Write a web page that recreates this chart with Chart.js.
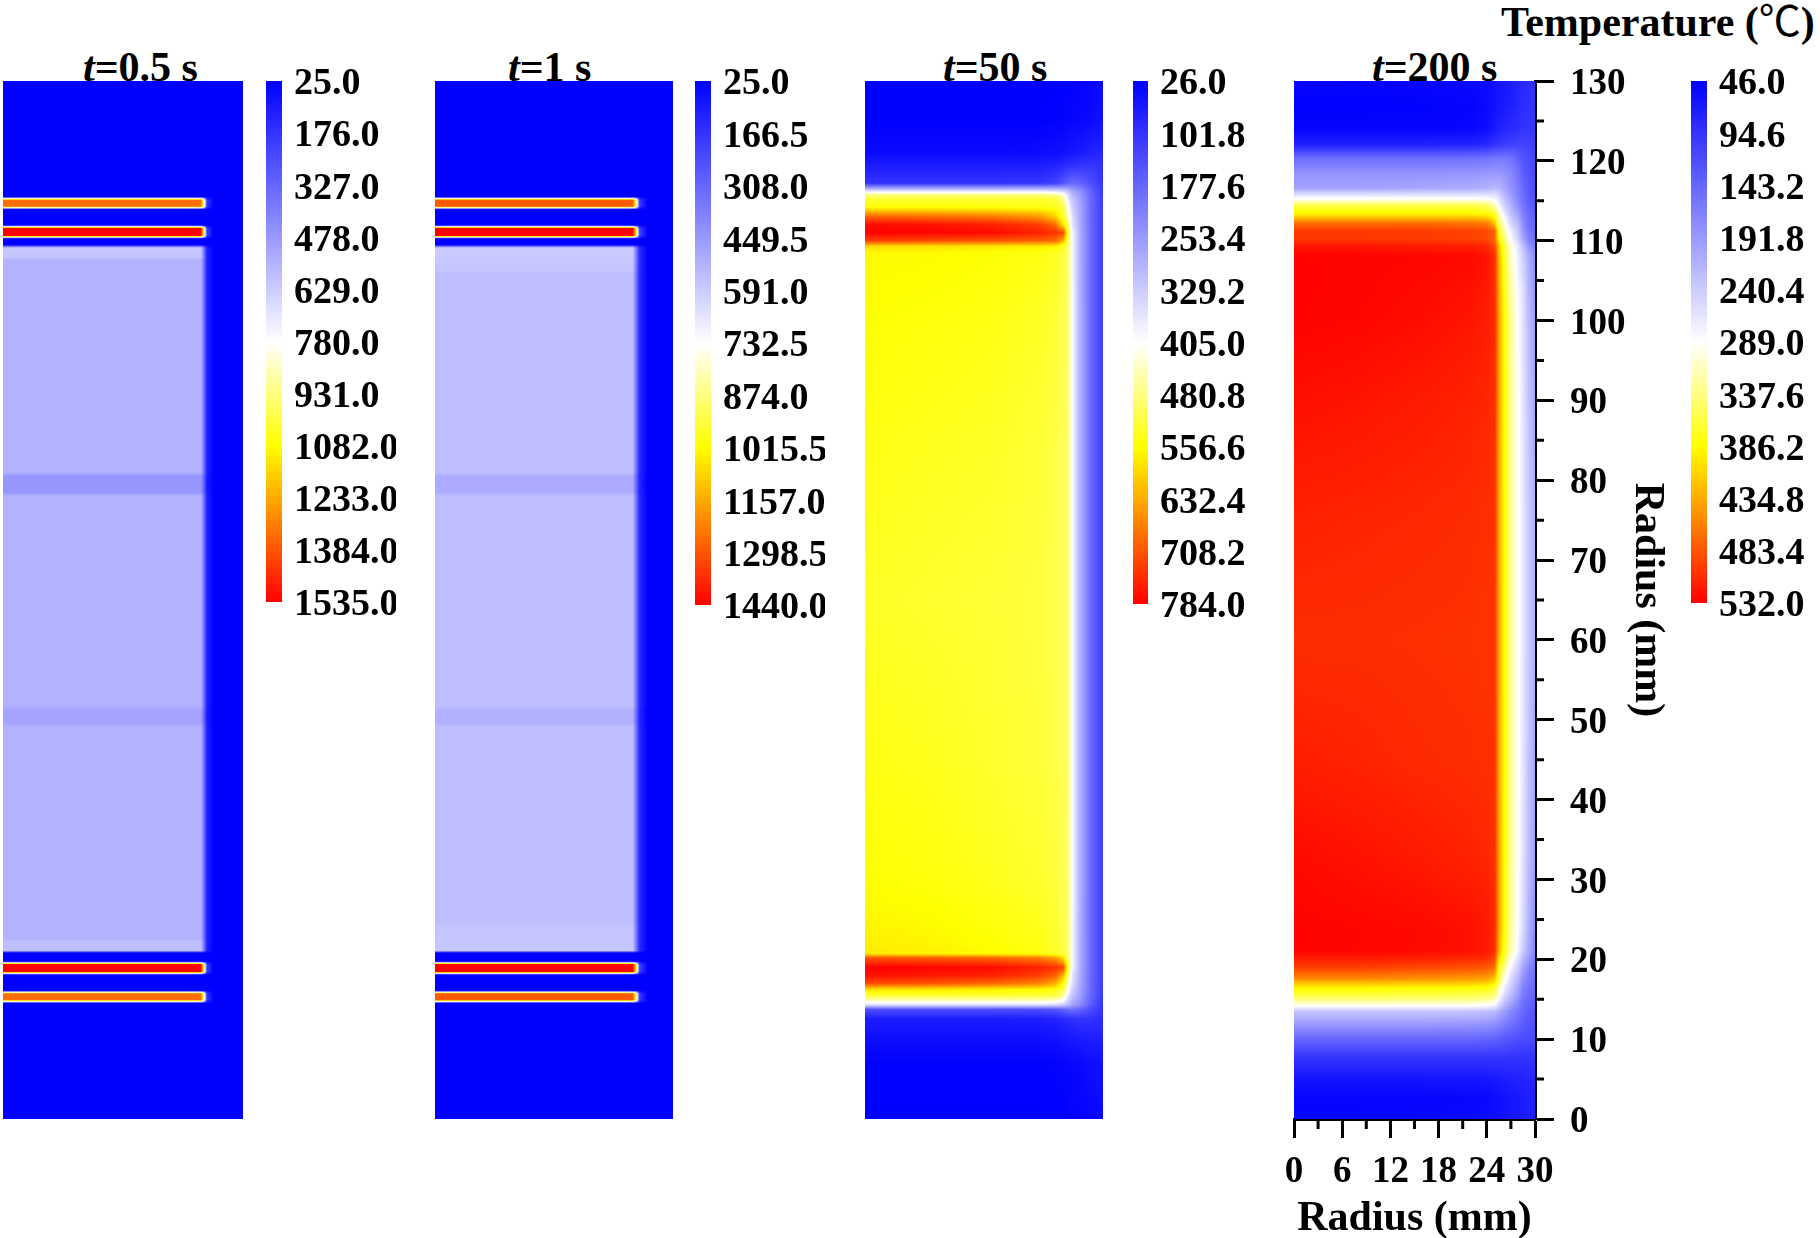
<!DOCTYPE html>
<html><head><meta charset="utf-8">
<style>
html,body{margin:0;padding:0;background:#fff;width:1820px;height:1238px;overflow:hidden}
canvas{position:absolute;display:block}
.t{position:absolute;font:bold 42px/42px "Liberation Serif",serif;color:#000;white-space:pre}
#temp{left:1501px;top:-3px}
#temp span{font-family:"Noto Sans CJK SC";font-weight:400;font-size:42px}
</style>
<script src="https://cdn.jsdelivr.net/npm/chart.js@4"></script>
</head><body>
<div class="t" style="left:83px;top:46px"><i>t</i>=0.5 s</div>
<div class="t" style="left:508px;top:46px"><i>t</i>=1 s</div>
<div class="t" style="left:943px;top:46px"><i>t</i>=50 s</div>
<div class="t" style="left:1372px;top:46px"><i>t</i>=200 s</div>
<div class="t" id="temp">Temperature (<span>℃</span>)</div>
<canvas id="h1"></canvas><canvas id="h2"></canvas><canvas id="h3"></canvas><canvas id="h4"></canvas>
<canvas id="b1"></canvas><canvas id="b2"></canvas><canvas id="b3"></canvas><canvas id="b4"></canvas>
<script>
// colour bar tick labels (°C)
const bar1Ticks=[25.0,176.0,327.0,478.0,629.0,780.0,931.0,1082.0,1233.0,1384.0,1535.0];
const bar2Ticks=[25.0,166.5,308.0,449.5,591.0,732.5,874.0,1015.5,1157.0,1298.5,1440.0];
const bar3Ticks=[26.0,101.8,177.6,253.4,329.2,405.0,480.8,556.6,632.4,708.2,784.0];
const bar4Ticks=[46.0,94.6,143.2,191.8,240.4,289.0,337.6,386.2,434.8,483.4,532.0];
// colour map stops
const mapStops=[0,0.5,0.7,1];
const mapColors=[[0,0,255],[255,255,255],[255,255,0],[255,0,0]];
// axis ticks of the last panel
const xMinorTicks=[3,9,15,21,27];
const yMinorTicks=[5,15,25,35,45,55,65,75,85,95,105,115,125];

// t=0.5 s : radial nodes (mm), axial nodes (mm), temperature read at the nodes (°C)
const p1R=[0,24.7,25.05,25.5,26.3,30];
const p1Z=[130,115.5,115.1,114.3,113.9,111.95,111.55,110.65,110.25,109.5,109.1,107.9,107.6,81,80.5,78.5,78,51.7,51.2,49.6,49.1,22.6,22.2,21.1,20.8,19.75,19.35,18.45,18.05,16.1,15.7,14.9,14.5,0];
const p1T=[
[25,25,25,25,25,25],[25,25,25,25,25,25],[1340,1340,1050,180,25,25],[1340,1340,1050,180,25,25],[25,25,25,25,25,25],
[25,25,25,25,25,25],[1535,1535,1150,200,25,25],[1535,1535,1150,200,25,25],[25,25,25,25,25,25],
[25,25,25,25,25,25],[617,617,430,120,25,25],[600,600,420,120,25,25],[552,552,400,120,25,25],[552,552,400,120,25,25],
[470,470,350,100,25,25],[470,470,350,100,25,25],[552,552,400,120,25,25],[552,552,400,120,25,25],
[510,510,370,105,25,25],[510,510,370,105,25,25],[552,552,400,120,25,25],[552,552,400,120,25,25],
[590,590,425,120,25,25],[590,590,425,120,25,25],[25,25,25,25,25,25],[25,25,25,25,25,25],
[1535,1535,1150,200,25,25],[1535,1535,1150,200,25,25],[25,25,25,25,25,25],[25,25,25,25,25,25],
[1340,1340,1050,180,25,25],[1340,1340,1050,180,25,25],[25,25,25,25,25,25],[25,25,25,25,25,25]];

// t=1 s
const p2R=[0,24.9,25.3,25.8,26.8,30];
const p2Z=[130,115.5,115.1,114.3,113.9,111.95,111.55,110.65,110.25,109.5,109.1,106.2,105.9,81,80.5,78.5,78,51.7,51.2,49.6,49.1,24.7,24.4,21.1,20.8,19.75,19.35,18.45,18.05,16.1,15.7,14.9,14.5,0];
const p2T=[
[25,25,25,25,25,25],[25,25,25,25,25,25],[1290,1290,1000,180,25,25],[1290,1290,1000,180,25,25],[25,25,25,25,25,25],
[25,25,25,25,25,25],[1440,1440,1100,200,25,25],[1440,1440,1100,200,25,25],[25,25,25,25,25,25],
[25,25,25,25,25,25],[590,590,400,140,25,25],[570,570,390,140,25,25],[553,553,380,135,25,25],[553,553,380,135,25,25],
[500,500,345,120,25,25],[500,500,345,120,25,25],[553,553,380,135,25,25],[553,553,380,135,25,25],
[515,515,360,125,25,25],[515,515,360,125,25,25],[553,553,380,135,25,25],[553,553,380,135,25,25],
[566,566,390,140,25,25],[580,580,395,140,25,25],[25,25,25,25,25,25],[25,25,25,25,25,25],
[1440,1440,1100,200,25,25],[1440,1440,1100,200,25,25],[25,25,25,25,25,25],[25,25,25,25,25,25],
[1290,1290,1000,180,25,25],[1290,1290,1000,180,25,25],[25,25,25,25,25,25],[25,25,25,25,25,25]];

// t=50 s
const p3R=[0,8,16,22,24,25,25.6,26.1,27,28.5,30];
const p3Z=[130,125,121,119.5,117.2,116.3,115.8,115.3,114.2,113,112,111,110,109.3,108.5,100,85,65,45,30,22,20.7,20.2,19,18,17,16.2,15.5,15,14.3,13.7,12.5,10,7,0];
const p3T=[
[26,26,26,26,26,26,26,28,30,35,40],
[26,26,26,26,28,30,32,34,36,40,50],
[40,40,40,42,46,50,54,58,62,75,80],
[65,65,65,68,75,85,90,95,100,105,95],
[100,100,100,105,120,150,170,180,175,140,105],
[340,340,340,340,330,320,300,270,240,170,108],
[470,470,470,470,460,420,350,300,260,175,110],
[525,525,525,525,520,470,370,320,270,180,112],
[555,555,550,545,540,510,410,340,280,180,113],
[700,690,680,650,600,530,450,360,285,180,114],
[775,770,755,730,690,580,490,370,290,180,114],
[784,780,775,755,740,720,530,400,295,180,114],
[730,720,710,700,690,630,500,400,295,180,114],
[590,585,580,575,570,530,490,400,295,180,114],
[562,560,555,545,535,520,490,400,295,180,114],
[555,550,545,535,525,510,490,405,300,180,115],
[545,540,535,525,515,505,490,405,300,180,115],
[535,530,525,520,512,505,490,405,300,180,115],
[545,540,530,522,515,505,490,405,300,180,115],
[555,550,540,530,520,508,490,405,300,180,115],
[570,565,555,545,530,515,490,400,295,180,114],
[575,570,560,550,535,520,490,400,295,180,114],
[710,700,690,670,640,580,500,400,295,180,114],
[784,780,775,755,740,720,530,400,295,180,114],
[770,765,755,730,700,630,490,370,290,180,114],
[720,710,695,670,630,550,450,360,285,180,113],
[580,578,570,560,550,515,410,340,280,178,112],
[525,525,525,525,520,470,370,320,270,175,110],
[470,470,470,470,460,420,350,300,260,170,108],
[360,360,360,360,350,330,300,270,240,160,105],
[140,140,140,140,150,170,185,190,175,135,100],
[65,65,65,68,75,85,90,95,100,100,90],
[45,45,45,46,50,55,58,60,65,70,70],
[28,28,28,28,30,32,34,36,38,45,50],
[26,26,26,26,26,26,28,30,32,35,40]];

// t=200 s
const p4R=[0,8,16,22,24,25,25.5,26.2,27,27.9,28.5,29.2,30];
const p4Z=[130,127,124,122,120.3,118.5,116.6,115.6,115.1,114.4,113.3,112.2,111.2,110.2,109.3,108,104,100,90,75,60,45,32,24,21,20.2,19,17.6,16.5,15.3,14.9,14.2,13.5,11.6,10,7.8,4.9,2.4,0];
const p4T=[
[52,50,52,55,58,62,64,68,72,80,85,88,92],
[46,46,47,50,55,62,66,70,75,82,88,90,95],
[50,50,50,52,58,70,75,80,85,90,95,96,98],
[78,78,78,80,85,95,100,105,108,110,110,108,105],
[150,150,150,152,155,160,160,160,155,140,125,118,112],
[185,185,185,187,190,190,190,185,175,155,135,125,116],
[200,200,205,210,215,220,220,205,185,165,145,130,120],
[270,270,270,270,270,265,250,225,200,170,150,132,122],
[300,300,300,300,300,285,265,235,205,175,152,135,125],
[360,360,360,360,350,320,280,245,215,180,158,140,128],
[395,395,395,395,390,370,320,270,230,200,170,148,132],
[470,470,470,465,460,420,350,300,250,220,180,152,138],
[500,500,498,495,490,475,375,320,275,235,190,160,145],
[500,500,498,495,490,470,395,340,285,245,205,170,150],
[520,520,518,515,510,490,420,360,305,265,230,190,165],
[531,530,529,527,522,505,430,370,310,270,245,210,180],
[531,530,527,523,518,507,436,380,322,282,258,220,190],
[531,529,525,520,515,508,440,386,330,287,262,225,195],
[524,521,517,513,510,505,440,386,330,289,265,232,205],
[513,511,509,507,505,503,438,386,330,289,267,238,212],
[506,506,505,504,503,502,438,386,330,289,267,238,212],
[515,512,508,506,505,503,438,386,330,289,265,232,205],
[527,523,518,513,510,505,440,386,330,289,262,225,198],
[531,529,527,523,518,508,440,385,328,285,255,215,180],
[531,529,527,523,518,505,430,375,320,275,240,205,172],
[518,518,515,510,507,492,410,360,300,260,225,195,165],
[497,497,492,487,482,467,380,330,280,240,205,175,155],
[455,455,450,445,440,420,360,300,255,220,185,165,150],
[395,395,392,390,385,370,320,275,240,205,170,155,145],
[355,355,353,350,345,335,290,250,220,190,160,148,140],
[335,335,333,330,325,315,275,240,210,180,155,145,135],
[295,295,293,290,285,275,250,220,195,170,150,140,130],
[235,235,235,233,230,225,210,195,175,160,145,135,128],
[185,185,185,183,180,175,170,160,150,140,130,125,122],
[143,143,143,143,140,138,135,130,125,120,118,118,118],
[97,97,97,97,97,97,97,97,95,95,95,95,95],
[64,64,64,65,66,68,70,72,74,76,78,80,82],
[50,50,50,52,54,58,60,62,66,68,72,74,76],
[52,52,54,56,58,60,62,64,68,70,72,74,75]];

function tColor(t){
  t=Math.max(0,Math.min(1,t));
  let i=0; while(i<mapStops.length-2 && t>mapStops[i+1]) i++;
  const f=(t-mapStops[i])/(mapStops[i+1]-mapStops[i]);
  return mapColors[i].map((c,k)=>c+(mapColors[i+1][k]-c)*f);
}
const FAMILY='"Liberation Serif",serif';
const TICK_FONT={family:FAMILY,weight:'bold',size:37};
// the small line height with a blank first line drops vertical-axis labels by half of it
const DROP_TICK_FONT={family:FAMILY,weight:'bold',size:37,lineHeight:'7px'};
const BAR_FONT={family:FAMILY,weight:'bold',size:38,lineHeight:'7px'};
const TITLE_FONT={family:FAMILY,weight:'bold',size:42,lineHeight:1};

const fieldPlugin={id:'field',beforeDatasetsDraw(chart){
  const ds=chart.data.datasets[0], pts=chart.getDatasetMeta(0).data;
  const nx=ds.nx, nz=ds.nz, lo=ds.lo, hi=ds.hi;
  const px=[],py=[];
  for(let j=0;j<nx;j++)px.push(pts[j].x);
  for(let i=0;i<nz;i++)py.push(pts[i*nx].y);
  const a=chart.chartArea, X0=Math.round(a.left),Y0=Math.round(a.top),
        W=Math.round(a.right)-X0,H=Math.round(a.bottom)-Y0;
  const off=document.createElement('canvas');off.width=W;off.height=H;
  const c=off.getContext('2d'),img=c.createImageData(W,H);
  let n=0,row=0;
  for(let y=0;y<H;y++){
    const yy=Y0+y+.5; while(row<nz-2&&yy>py[row+1])row++;
    const fy=Math.max(0,Math.min(1,(yy-py[row])/(py[row+1]-py[row])));
    let col=0;
    for(let x=0;x<W;x++){
      const xx=X0+x+.5; while(col<nx-2&&xx>px[col+1])col++;
      const fx=Math.max(0,Math.min(1,(xx-px[col])/(px[col+1]-px[col])));
      const v00=pts[row*nx+col].$v,v01=pts[row*nx+col+1].$v,v10=pts[(row+1)*nx+col].$v,v11=pts[(row+1)*nx+col+1].$v;
      const v=(v00*(1-fx)+v01*fx)*(1-fy)+(v10*(1-fx)+v11*fx)*fy;
      const rgb=tColor((v-lo)/(hi-lo));
      img.data[n++]=rgb[0];img.data[n++]=rgb[1];img.data[n++]=rgb[2];img.data[n++]=255;
    }
  }
  c.putImageData(img,0,0);
  chart.ctx.drawImage(off,X0,Y0);
}};
const minorPlugin={id:'minor',afterDraw(chart){
  if(!chart.options.plugins.minor||!chart.options.plugins.minor.on)return;
  const g=chart.ctx,x=chart.scales.x,y=chart.scales.y;
  g.save();g.strokeStyle='#000';g.lineWidth=3;g.beginPath();
  xMinorTicks.forEach(v=>{const p=x.getPixelForValue(v);g.moveTo(p,x.top);g.lineTo(p,x.top+10);});
  yMinorTicks.forEach(v=>{const p=y.getPixelForValue(v);g.moveTo(y.left,p);g.lineTo(y.left+9,p);});
  g.stroke();g.restore();
}};

function place(id,l,t,w,h){
  const c=document.getElementById(id);
  c.style.left=l+'px';c.style.top=t+'px';c.style.width=w+'px';c.style.height=h+'px';
  c.width=w;c.height=h;return c;
}
function fieldData(R,Z,T,lo,hi){
  const d=[];
  Z.forEach((z,i)=>R.forEach((r,j)=>d.push({x:r,y:z,v:T[i][j]})));
  return {datasets:[{data:d,nx:R.length,nz:Z.length,lo,hi,pointRadius:0,pointHoverRadius:0,showLine:false}]};
}
// copy node values on to the placed elements once the chart has parsed them
const valuePlugin={id:'vals',afterDatasetsUpdate(chart){
  const ds=chart.data.datasets[0];
  chart.getDatasetMeta(0).data.forEach((p,i)=>{p.$v=ds.data[i].v;});
}};
function heat(id,l,t,w,h,R,Z,T,ticks,axes){
  const c=place(id,l,t,w,h);
  const lo=ticks[0],hi=ticks[ticks.length-1];
  const base={x:{type:'linear',min:0,max:30,display:false},y:{type:'linear',min:0,max:130,display:false}};
  return new Chart(c,{type:'scatter',data:fieldData(R,Z,T,lo,hi),plugins:[valuePlugin,fieldPlugin,minorPlugin],
    options:{responsive:false,animation:false,events:[],devicePixelRatio:1,
      layout:{padding:axes?axes.pad:0},
      plugins:{legend:{display:false},tooltip:{enabled:false},minor:{on:!!axes}},
      scales:axes?axes.scales:base}});
}
heat('h1',3,81,240,1038,p1R,p1Z,p1T,bar1Ticks);
heat('h2',435,81,238,1038,p2R,p2Z,p2T,bar2Ticks);
heat('h3',865,81,238,1038,p3R,p3Z,p3T,bar3Ticks);
const axisGrid={display:true,drawOnChartArea:false,drawTicks:true,tickLength:19,tickWidth:3,tickColor:'#000',color:'#000'};
heat('h4',1270,41,398,1199,p4R,p4Z,p4T,bar4Ticks,{
  pad:{left:24,top:40,right:0,bottom:0},
  scales:{
    x:{type:'linear',min:0,max:30,position:'bottom',
       afterFit:s=>{s.height=121;},
       ticks:{stepSize:6,color:'#000',font:TICK_FONT,padding:12,maxRotation:0,autoSkip:false},
       grid:axisGrid,border:{display:true,color:'#000',width:3},
       title:{display:true,text:'Radius (mm)',color:'#000',font:TITLE_FONT,padding:0}},
    y:{type:'linear',min:0,max:130,position:'right',
       afterFit:s=>{s.width=133;},
       ticks:{stepSize:10,color:'#000',font:DROP_TICK_FONT,padding:16,autoSkip:false,callback:v=>['',String(v)]},
       grid:axisGrid,border:{display:true,color:'#000',width:3},
       title:{display:true,text:'Radius (mm)',color:'#000',font:TITLE_FONT,padding:0}}
  }});

function colorBar(id,barL,barW,top,bottom,ticks){
  const lo=ticks[0],hi=ticks[ticks.length-1],pad=40,w=130;
  const c=place(id,barL,top-pad,w,bottom-top+2*pad);
  return new Chart(c,{type:'bar',data:{labels:[''],datasets:[{data:[[lo,hi]],
      barPercentage:1,categoryPercentage:1,borderWidth:0,
      backgroundColor(ctx){
        const ch=ctx.chart;if(!ch.chartArea)return '#00f';
        const y=ch.scales.y,g=ch.ctx.createLinearGradient(0,y.getPixelForValue(lo),0,y.getPixelForValue(hi));
        mapStops.forEach((s,i)=>g.addColorStop(s,'rgb('+mapColors[i].join(',')+')'));
        return g;
      }}]},
    options:{responsive:false,animation:false,events:[],devicePixelRatio:1,
      layout:{padding:{top:pad,bottom:pad,left:0,right:0}},
      plugins:{legend:{display:false},tooltip:{enabled:false}},
      scales:{
        x:{display:false},
        y:{type:'linear',min:lo,max:hi,reverse:true,position:'right',
           afterFit:s=>{s.width=w-barW;},
           afterBuildTicks:s=>{s.ticks=ticks.map(v=>({value:v}));},
           ticks:{color:'#000',font:BAR_FONT,padding:12,autoSkip:false,callback:v=>['',Number(v).toFixed(1)]},
           grid:{display:false,drawTicks:false},border:{display:false}}
      }}});
}
colorBar('b1',266,16,81,602,bar1Ticks);
colorBar('b2',695,16,81,605,bar2Ticks);
colorBar('b3',1133,15,81,604,bar3Ticks);
colorBar('b4',1691,16,81,603,bar4Ticks);
</script>
</body></html>
